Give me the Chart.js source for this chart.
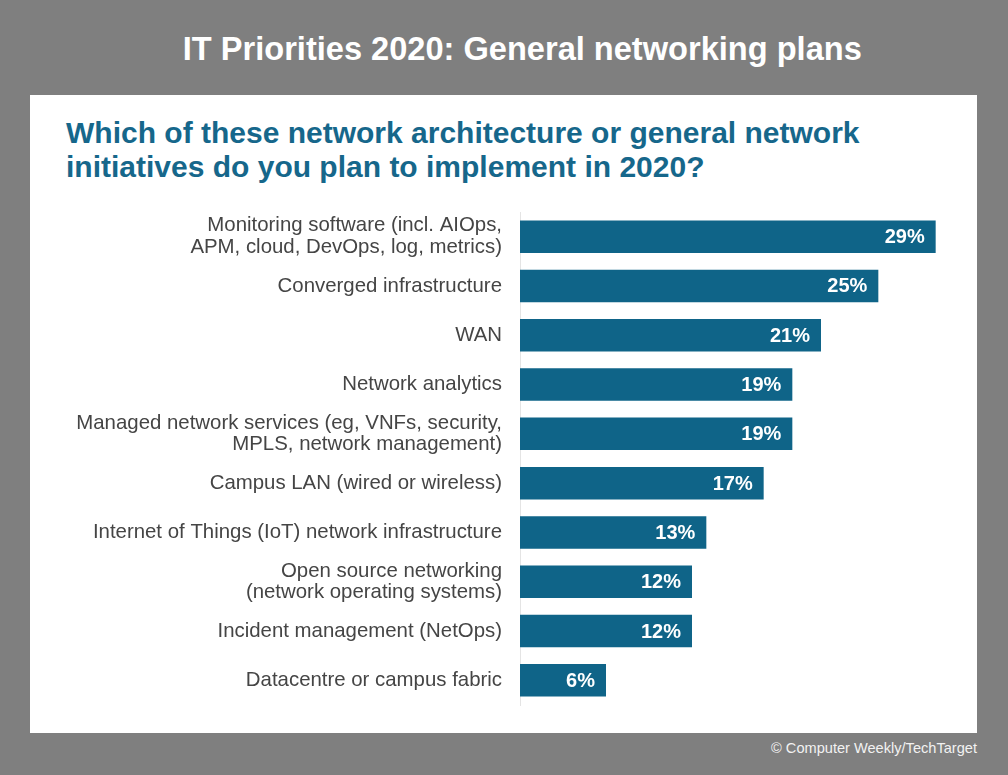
<!DOCTYPE html>
<html>
<head>
<meta charset="utf-8">
<script src="https://cdn.jsdelivr.net/npm/chart.js@4/dist/chart.umd.min.js"></script>
<style>
  html, body { margin:0; padding:0; }
  body { width:1008px; height:775px; background:#7f7f7f; position:relative; overflow:hidden; font-family:"Liberation Sans", Arial, sans-serif; }
  #title { position:absolute; left:18px; top:28px; width:1008px; text-align:center; }
  #title span { display:inline-block; color:#fff; font-family:"Liberation Sans", Arial, sans-serif; font-weight:bold; font-size:34px; line-height:40px; transform-origin:center; white-space:nowrap; }
  #panel { position:absolute; left:30px; top:95px; width:947px; height:638px; background:#fff; }
  #subtitle { position:absolute; left:66px; top:116px; color:#16678b; font-weight:bold; font-size:30px; line-height:34px; white-space:nowrap; }
  #credit { position:absolute; right:31px; top:740px; color:#f2f2f2; font-size:14.6px; }
  #wrap { position:absolute; left:0; top:0; width:1008px; height:775px; }
</style>
</head>
<body>
<div id="title"><span id="tspan">IT Priorities 2020: General networking plans</span></div>
<div id="panel"></div>
<div id="subtitle">Which of these network architecture or general network<br>initiatives do you plan to implement in 2020?</div>
<div id="credit">© Computer Weekly/TechTarget</div>
<div id="wrap"><canvas id="c" width="1008" height="775"></canvas></div>
<script>
const categories = [
  ["Monitoring software (incl. AIOps,", "APM, cloud, DevOps, log, metrics)"],
  "Converged infrastructure",
  "WAN",
  "Network analytics",
  ["Managed network services (eg, VNFs, security,", "MPLS, network management)"],
  "Campus LAN (wired or wireless)",
  "Internet of Things (IoT) network infrastructure",
  ["Open source networking", "(network operating systems)"],
  "Incident management (NetOps)",
  "Datacentre or campus fabric"
];
const values = [29, 25, 21, 19, 19, 17, 13, 12, 12, 6];
const valueLabels = ["29%", "25%", "21%", "19%", "19%", "17%", "13%", "12%", "12%", "6%"];

// condense the title to mimic a narrow typeface
(function(){
  const s = document.getElementById('tspan');
  const w = s.getBoundingClientRect().width;
  s.style.transform = 'scaleX(' + (679 / w) + ')';
})();

const barLabelPlugin = {
  id: 'barLabels',
  afterDatasetsDraw(chart) {
    const ctx = chart.ctx;
    const meta = chart.getDatasetMeta(0);
    ctx.save();
    ctx.fillStyle = '#ffffff';
    ctx.font = 'bold 20px "Liberation Sans", Arial, sans-serif';
    ctx.textAlign = 'right';
    ctx.textBaseline = 'middle';
    meta.data.forEach((bar, i) => {
      ctx.fillText(valueLabels[i], bar.x - 11, bar.y + 1);
    });
    ctx.restore();
  }
};

new Chart(document.getElementById('c'), {
  type: 'bar',
  data: {
    labels: categories,
    datasets: [{
      data: values,
      backgroundColor: '#0f6488',
      borderWidth: 0,
      barPercentage: 0.66,
      categoryPercentage: 1.0
    }]
  },
  options: {
    indexAxis: 'y',
    responsive: false,
    animation: false,
    devicePixelRatio: 1,
    layout: { padding: { top: 212, bottom: 70, right: 58, left: 0 } },
    plugins: { legend: { display: false }, tooltip: { enabled: false } },
    scales: {
      x: { display: false, min: 0, max: 30 },
      y: {
        afterFit(scale) { scale.width = 520; },
        grid: { display: false, drawTicks: false },
        border: { display: true, color: '#e4e4e4', width: 1 },
        ticks: {
          padding: 18,
          color: '#454545',
          font: { family: '"Liberation Sans", Arial, sans-serif', size: 20.4, lineHeight: 1.06 }
        }
      }
    }
  },
  plugins: [barLabelPlugin]
});
</script>
</body>
</html>
